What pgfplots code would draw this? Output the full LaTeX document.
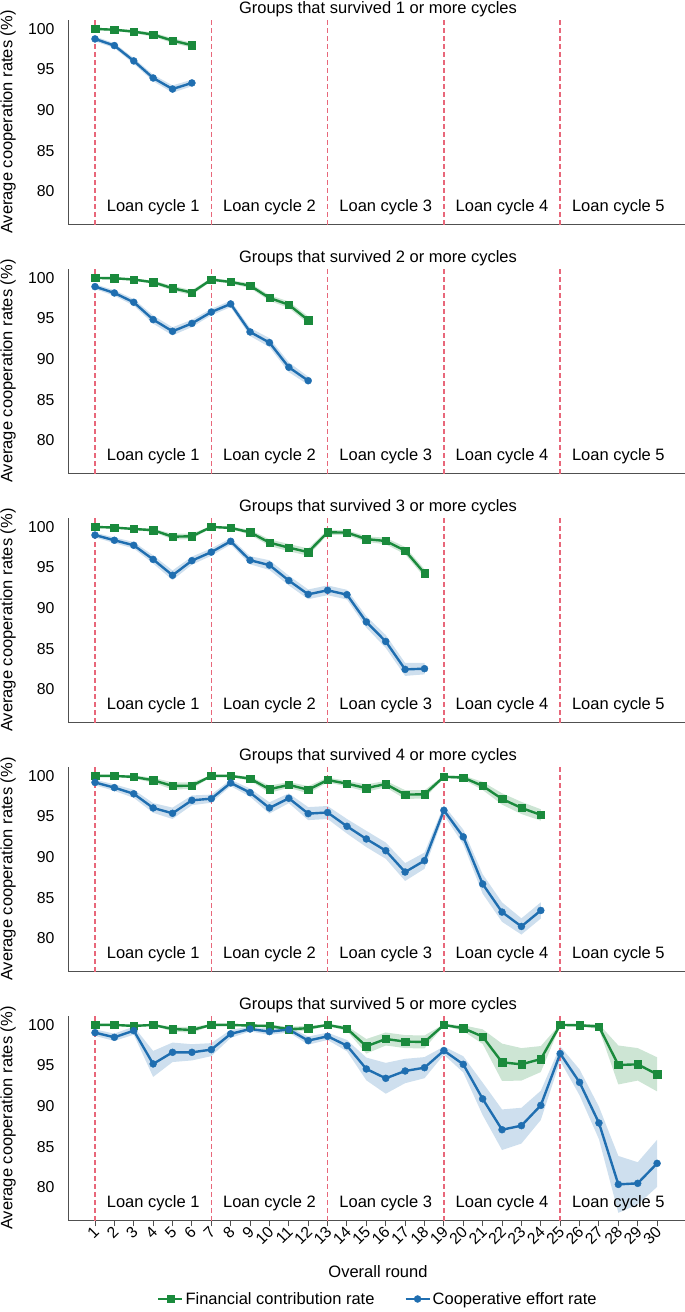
\documentclass[border=0pt]{standalone}
\usepackage{fontspec}
\setmainfont{Liberation Sans}
\usepackage{pgfplots}
\pgfplotsset{compat=1.18}
\usepackage{pgfplotstable}
\usepgfplotslibrary{fillbetween}

\definecolor{cgreen}{HTML}{1A8A3C}
\definecolor{cblue}{HTML}{1F6EB0}
\definecolor{cred}{HTML}{E8677A}
\definecolor{axisgray}{HTML}{505050}

\pgfplotstableread{
x g ge b be
1 100.0 0.15 98.77 0.30
2 99.90 0.15 97.95 0.30
3 99.67 0.20 96.06 0.35
4 99.30 0.25 93.96 0.40
5 98.56 0.30 92.60 0.45
6 98.00 0.30 93.35 0.40
}\tblA

\pgfplotstableread{
x g ge b be
1 100.0 0.10 98.93 0.30
2 99.96 0.12 98.15 0.35
3 99.80 0.15 97.00 0.40
4 99.47 0.20 94.87 0.50
5 98.73 0.30 93.43 0.50
6 98.20 0.30 94.40 0.45
7 99.80 0.20 95.80 0.40
8 99.50 0.20 96.80 0.40
9 99.05 0.30 93.35 0.50
10 97.54 0.35 92.04 0.55
11 96.70 0.40 89.00 0.60
12 94.80 0.45 87.35 0.50
}\tblB

\pgfplotstableread{
x g ge b be
1 100.0 0.10 99.00 0.30
2 99.92 0.12 98.36 0.35
3 99.75 0.15 97.74 0.40
4 99.60 0.20 96.00 0.50
5 98.80 0.35 94.05 0.60
6 98.85 0.35 95.85 0.50
7 100.0 0.10 96.90 0.45
8 99.88 0.15 98.23 0.40
9 99.34 0.30 95.90 0.50
10 98.07 0.40 95.30 0.60
11 97.45 0.45 93.40 0.60
12 96.90 0.45 91.70 0.60
13 99.34 0.30 92.20 0.60
14 99.30 0.30 91.66 0.60
15 98.50 0.35 88.30 0.70
16 98.27 0.40 85.90 0.80
17 97.08 0.45 82.46 0.80
18 94.30 0.50 82.55 0.70
}\tblC

\pgfplotstableread{
x g ge b be
1 100.0 0.10 99.20 0.35
2 100.0 0.12 98.56 0.40
3 99.88 0.20 97.80 0.50
4 99.47 0.30 96.06 0.60
5 98.77 0.45 95.40 0.70
6 98.80 0.40 97.00 0.60
7 100.0 0.10 97.20 0.50
8 100.0 0.12 99.14 0.40
9 99.67 0.25 97.95 0.50
10 98.36 0.45 96.06 0.70
11 98.90 0.35 97.25 0.60
12 98.30 0.45 95.36 0.80
13 99.50 0.30 95.50 0.80
14 99.05 0.35 93.80 0.90
15 98.50 0.45 92.24 1.00
16 99.00 0.40 90.80 1.00
17 97.70 0.55 88.17 1.10
18 97.74 0.50 89.57 1.00
19 99.90 0.15 95.77 0.60
20 99.80 0.25 92.50 0.90
21 98.77 0.50 86.70 1.20
22 97.17 0.70 83.24 1.20
23 96.06 0.75 81.47 1.00
24 95.20 0.70 83.44 1.00
}\tblD

\pgfplotstableread{
x g ge b be
1 100.0 0.10 99.05 0.40
2 100.0 0.10 98.48 0.45
3 99.88 0.15 99.30 0.50
4 100.0 0.10 95.20 1.60
5 99.50 0.30 96.63 1.20
6 99.38 0.35 96.63 1.00
7 100.0 0.10 96.96 0.80
8 100.0 0.10 98.90 0.50
9 99.92 0.15 99.50 0.30
10 99.88 0.15 99.18 0.40
11 99.47 0.30 99.43 0.35
12 99.60 0.30 98.07 0.50
13 100.0 0.10 98.60 0.45
14 99.55 0.30 97.45 0.70
15 97.37 0.90 94.58 1.40
16 98.27 0.80 93.43 1.90
17 97.95 0.80 94.33 1.50
18 97.90 0.80 94.74 1.30
19 100.0 0.10 96.84 0.50
20 99.60 0.35 95.15 1.00
21 98.56 0.90 90.90 2.00
22 95.40 2.30 87.10 2.50
23 95.15 2.00 87.60 2.20
24 95.80 1.60 90.10 1.80
25 100.0 0.10 96.47 0.90
26 99.96 0.15 92.93 1.60
27 99.80 0.30 87.93 2.00
28 95.07 2.40 80.37 3.50
29 95.15 2.00 80.50 2.60
30 93.92 2.10 82.96 2.90
}\tblE

\newcommand{\txtfont}{\fontsize{16.5}{19.8}\selectfont}
\newcommand{\tickfont}{\fontsize{15.8}{19}\selectfont}

\tikzset{cycleline/.style={draw=cred, line width=1.4pt, dash pattern=on 4.5pt off 3.5pt}}

\pgfplotsset{
  panel/.style={
    scale only axis, width=617pt, height=205.1pt,
    xmin=-0.393, xmax=31.44, ymin=75.9, ymax=101.15,
    axis x line*=bottom, axis y line*=left,
    axis line style={draw=axisgray, line width=1pt, -},
    font=\txtfont,
    xtick align=outside, ytick align=inside, major tick length=5.7pt,
    xtick style={draw=axisgray, line width=1pt},
    ytick style={draw=none},
    ytick={80,85,90,95,100},
    xtick=\empty,
    /pgf/number format/assume math mode=true,
    tick label style={font=\tickfont},
    yticklabel style={inner sep=0pt, xshift=-13.4pt},
    ylabel={Average cooperation rates (\%)},
    ylabel style={at={(axis description cs:-0.0972,0.5)}, anchor=center, inner sep=0pt},
    title style={at={(axis description cs:0.5024,1)}, anchor=base, yshift=0pt, inner sep=0pt, font=\txtfont},
  },
  gline/.style={cgreen, line width=2.4pt, mark=square*, mark size=3.7pt, mark options={solid, fill=cgreen, draw=cgreen, line width=0.4pt}},
  bline/.style={cblue, line width=2.4pt, mark=*, mark size=3.5pt, mark options={solid, fill=cblue, draw=cblue, line width=0.4pt}},
}

\newcommand{\cyclemarks}{%
  \draw[axisgray, line width=1pt] (axis cs:-0.393,80) -- ++(-5.7pt,0pt);
  \draw[axisgray, line width=1pt] (axis cs:-0.393,85) -- ++(-5.7pt,0pt);
  \draw[axisgray, line width=1pt] (axis cs:-0.393,90) -- ++(-5.7pt,0pt);
  \draw[axisgray, line width=1pt] (axis cs:-0.393,95) -- ++(-5.7pt,0pt);
  \draw[axisgray, line width=1pt] (axis cs:-0.393,100) -- ++(-5.7pt,0pt);
  \draw[cycleline] (axis cs:1,75.9) -- (axis cs:1,101.15);
  \draw[cycleline] (axis cs:7,75.9) -- (axis cs:7,101.15);
  \draw[cycleline] (axis cs:13,75.9) -- (axis cs:13,101.15);
  \draw[cycleline] (axis cs:19,75.9) -- (axis cs:19,101.15);
  \draw[cycleline] (axis cs:25,75.9) -- (axis cs:25,101.15);
  \node[font=\txtfont, anchor=center] at (axis cs:4,78.0) {Loan cycle 1};
  \node[font=\txtfont, anchor=center] at (axis cs:10,78.0) {Loan cycle 2};
  \node[font=\txtfont, anchor=center] at (axis cs:16,78.0) {Loan cycle 3};
  \node[font=\txtfont, anchor=center] at (axis cs:22,78.0) {Loan cycle 4};
  \node[font=\txtfont, anchor=center] at (axis cs:28,78.0) {Loan cycle 5};
}

\newcommand{\bands}[2]{%
  \addplot[draw=none, name path=gu#2, forget plot] table[x=x, y expr=\thisrow{g}+\thisrow{ge}] {#1};
  \addplot[draw=none, name path=gl#2, forget plot] table[x=x, y expr=\thisrow{g}-\thisrow{ge}] {#1};
  \addplot[fill=cgreen, fill opacity=0.22, draw=none, forget plot] fill between[of=gu#2 and gl#2];
  \addplot[draw=none, name path=bu#2, forget plot] table[x=x, y expr=\thisrow{b}+\thisrow{be}] {#1};
  \addplot[draw=none, name path=bl#2, forget plot] table[x=x, y expr=\thisrow{b}-\thisrow{be}] {#1};
  \addplot[fill=cblue, fill opacity=0.22, draw=none, forget plot] fill between[of=bu#2 and bl#2];
}

\begin{document}
\begin{tikzpicture}

\begin{axis}[panel, at={(68pt,1087.3pt)}, anchor=south west, title={Groups that survived 1 or more cycles}]
\cyclemarks
\bands{\tblA}{a}
\addplot[gline] table[x=x,y=g] {\tblA};
\addplot[bline] table[x=x,y=b] {\tblA};
\end{axis}

\begin{axis}[panel, at={(68pt,838.3pt)}, anchor=south west, title={Groups that survived 2 or more cycles}]
\cyclemarks
\bands{\tblB}{b}
\addplot[gline] table[x=x,y=g] {\tblB};
\addplot[bline] table[x=x,y=b] {\tblB};
\end{axis}

\begin{axis}[panel, at={(68pt,589.3pt)}, anchor=south west, title={Groups that survived 3 or more cycles}]
\cyclemarks
\bands{\tblC}{c}
\addplot[gline] table[x=x,y=g] {\tblC};
\addplot[bline] table[x=x,y=b] {\tblC};
\end{axis}

\begin{axis}[panel, at={(68pt,340.3pt)}, anchor=south west, title={Groups that survived 4 or more cycles}]
\cyclemarks
\bands{\tblD}{d}
\addplot[gline] table[x=x,y=g] {\tblD};
\addplot[bline] table[x=x,y=b] {\tblD};
\end{axis}

\begin{axis}[panel, at={(68pt,91.3pt)}, anchor=south west, title={Groups that survived 5 or more cycles},
  xtick={1,2,...,30},
  xticklabel style={rotate=45, anchor=east, inner sep=1pt, yshift=-3pt},
  xlabel={Overall round},
  xlabel style={at={(axis description cs:0.5024,0)}, anchor=center, yshift=-51.3pt, inner sep=0pt},
  legend columns=2,
  legend style={at={(axis description cs:0.5024,0)}, anchor=center, yshift=-78.3pt, draw=none, fill=none, font=\txtfont,
    /tikz/every even column/.append style={column sep=28pt}},
  legend image code/.code={\draw[mark repeat=2, mark phase=2, line width=2.2pt] plot coordinates {(0pt,0pt) (12pt,0pt) (24pt,0pt)};},
]
\cyclemarks
\bands{\tblE}{e}
\addplot[gline] table[x=x,y=g] {\tblE};
\addlegendentry{Financial contribution rate}
\addplot[bline] table[x=x,y=b] {\tblE};
\addlegendentry{Cooperative effort rate}
\end{axis}

\pgfresetboundingbox
\useasboundingbox (0pt,0pt) rectangle (685pt,1312pt);
\end{tikzpicture}
\end{document}
